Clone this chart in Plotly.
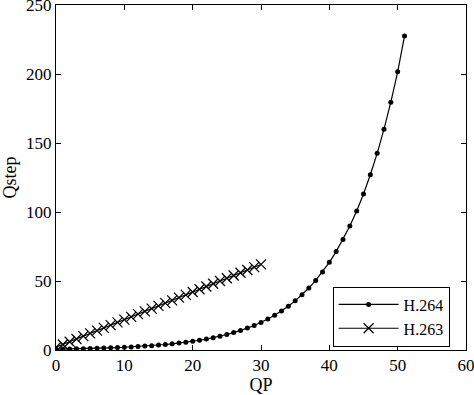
import plotly.graph_objects as go

qp264 = list(range(0, 52))
qstep264 = [0.63, 0.70, 0.79, 0.88, 0.99, 1.11,
            1.25, 1.40, 1.57, 1.77, 1.98, 2.23,
            2.5, 2.81, 3.15, 3.54, 3.97, 4.45,
            5.0, 5.61, 6.3, 7.07, 7.94, 8.91,
            10, 11.2, 12.6, 14.1, 15.9, 17.8,
            20, 22.4, 25.2, 28.3, 31.7, 35.6,
            40, 44.9, 50.4, 56.6, 63.5, 71.3,
            80, 89.8, 100.8, 113.1, 127, 142.5,
            160, 179.6, 201.6, 227.5]
qp263 = list(range(0, 31))
qstep263 = [2, 4, 6, 8, 10, 12, 14, 16, 18, 20, 22, 24, 26, 28, 30, 32,
            34, 36, 38, 40, 42, 44, 46, 48, 50, 52, 54, 56, 58, 60, 62]
xticks = [0, 10, 20, 30, 40, 50, 60]
yticks = [0, 50, 100, 150, 200, 250]

font = "Liberation Serif, Times New Roman, serif"
fig = go.Figure()
fig.add_trace(go.Scatter(x=qp264, y=qstep264, mode="lines+markers", name="H.264",
                         line=dict(color="black", width=1.2),
                         marker=dict(symbol="circle", size=5, color="black")))
fig.add_trace(go.Scatter(x=qp263, y=qstep263, mode="lines+markers", name="H.263",
                         line=dict(color="black", width=1.2),
                         marker=dict(symbol="x-thin", size=10, color="black",
                                     line=dict(color="black", width=1.2))))
axis = dict(showgrid=False, zeroline=False, showline=True, linecolor="black", linewidth=1,
            mirror="ticks", ticks="inside", ticklen=5, tickcolor="black",
            ticklabeloverflow="allow",
            tickfont=dict(family=font, size=17, color="black"))
fig.update_layout(
    width=474, height=395,
    margin=dict(l=56, r=8, t=5, b=45, autoexpand=False),
    paper_bgcolor="white", plot_bgcolor="white",
    font=dict(family=font, size=17, color="black"),
    xaxis=dict(range=[0, 60], tickvals=xticks, automargin=False,
               title=dict(text="QP", font=dict(family=font, size=18), standoff=2), **axis),
    yaxis=dict(range=[0, 250], tickvals=yticks, automargin=False,
               title=dict(text="Qstep", font=dict(family=font, size=18), standoff=8), **axis),
    legend=dict(x=0.96, y=0.01, xanchor="right", yanchor="bottom",
                bgcolor="white", bordercolor="black", borderwidth=1,
                font=dict(family=font, size=16), itemwidth=60, tracegroupgap=0),
    showlegend=True,
)
fig.write_html("out.html", config={"displayModeBar": False},
               post_script="document.body.style.margin='0';")
